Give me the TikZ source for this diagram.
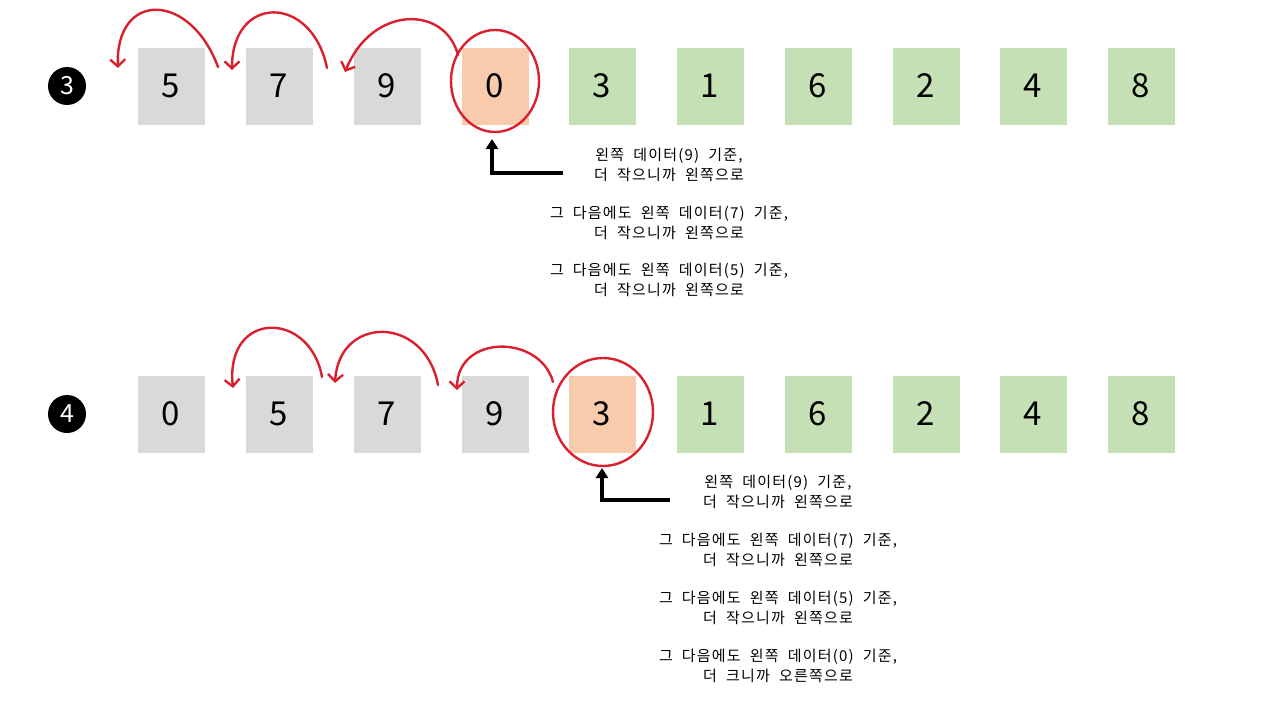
\documentclass[tikz,border=0pt]{standalone}
\usepackage{fontspec}
\setmainfont{Noto Sans CJK KR}
\newfontfamily\notefont[LetterSpace=8,WordSpace=2]{Noto Sans CJK KR}
\usetikzlibrary{arrows.meta}
\definecolor{grayc}{HTML}{D9D9D9}
\definecolor{greenc}{HTML}{C5E0B4}
\definecolor{orangec}{HTML}{F8CBAD}
\definecolor{redc}{HTML}{D9202E}
\tikzset{
  cell/.style={minimum width=67pt,minimum height=77pt,inner sep=0pt,font=\fontsize{33}{33}\selectfont},
  gcell/.style={cell,fill=grayc},
  ncell/.style={cell,fill=greenc},
  ocell/.style={cell,fill=orangec},
  stepnum/.style={circle,fill=black,minimum size=38pt,inner sep=0pt,text=white,font=\fontsize{25}{25}\selectfont},
  redarrow/.style={draw=redc,line width=2.4pt,line cap=round,-{Straight Barb[length=7pt,width=15pt]}},
  redring/.style={draw=redc,line width=2.4pt},
  blackarrow/.style={draw=black,line width=3.5pt,-{Triangle[length=10pt,width=12pt]}},
  note/.style={align=center,font=\notefont\fontsize{15}{20}\selectfont}
}
\begin{document}
\begin{tikzpicture}[x=1pt,y=-1pt]
\useasboundingbox (0,0) rectangle (1280,720);
% Row 1
\node[stepnum] (s3) at (67,86) {3};
\node[gcell] (a1) at (171,86) {5};
\node[gcell] (a2) at (279,86) {7};
\node[gcell] (a3) at (387,86) {9};
\node[ocell] (a4) at (495,86) {0};
\node[ncell] (a5) at (602,86) {3};
\node[ncell] (a6) at (710,86) {1};
\node[ncell] (a7) at (818,86) {6};
\node[ncell] (a8) at (926,86) {2};
\node[ncell] (a9) at (1033,86) {4};
\node[ncell] (a10) at (1141,86) {8};
\draw[redring] (495,81) ellipse [x radius=44,y radius=51];
\coordinate (r1s1) at (218,67); \coordinate (r1e1) at (118,68);
\coordinate (r1s2) at (327,68); \coordinate (r1e2) at (232,70);
\coordinate (r1s3) at (458,55); \coordinate (r1e3) at (345,72);
\draw[redarrow] (r1s1) .. controls (190,-9) and (115,-9) .. (r1e1);
\draw[redarrow] (r1s2) .. controls (312,-6) and (232,-6) .. (r1e2);
\draw[redarrow] (r1s3) .. controls (445,5) and (372,5) .. (r1e3);
\coordinate (b1s) at (563,173);
\coordinate (b1c) at (492,173);
\coordinate (b1e) at (492,139);
\draw[blackarrow] (b1s) -- (b1c) -- (b1e);
\node[note] (t1) at (669,165) {왼쪽 데이터(9) 기준,\\더 작으니까 왼쪽으로};
\node[note] (t2) at (669,223) {그 다음에도 왼쪽 데이터(7) 기준,\\더 작으니까 왼쪽으로};
\node[note] (t3) at (669,280) {그 다음에도 왼쪽 데이터(5) 기준,\\더 작으니까 왼쪽으로};
% Row 2
\node[stepnum] (s4) at (67,414) {4};
\node[gcell] (c1) at (171,414) {0};
\node[gcell] (c2) at (279,414) {5};
\node[gcell] (c3) at (387,414) {7};
\node[gcell] (c4) at (495,414) {9};
\node[ocell] (c5) at (602,414) {3};
\node[ncell] (c6) at (710,414) {1};
\node[ncell] (c7) at (818,414) {6};
\node[ncell] (c8) at (926,414) {2};
\node[ncell] (c9) at (1033,414) {4};
\node[ncell] (c10) at (1141,414) {8};
\draw[redring] (603,412) ellipse [x radius=50,y radius=54];
\coordinate (r2s1) at (322,377); \coordinate (r2e1) at (233,388);
\coordinate (r2s2) at (438,385); \coordinate (r2e2) at (335,383);
\coordinate (r2s3) at (553,382); \coordinate (r2e3) at (457,390);
\draw[redarrow] (r2s1) .. controls (310,310) and (225,310) .. (r2e1);
\draw[redarrow] (r2s2) .. controls (425,315) and (339,315) .. (r2e2);
\draw[redarrow] (r2s3) .. controls (540,334) and (457,334) .. (r2e3);
\coordinate (b2s) at (670,500);
\coordinate (b2c) at (602,500);
\coordinate (b2e) at (602,468);
\draw[blackarrow] (b2s) -- (b2c) -- (b2e);
\node[note] (u1) at (778,492) {왼쪽 데이터(9) 기준,\\더 작으니까 왼쪽으로};
\node[note] (u2) at (778,550) {그 다음에도 왼쪽 데이터(7) 기준,\\더 작으니까 왼쪽으로};
\node[note] (u3) at (778,608) {그 다음에도 왼쪽 데이터(5) 기준,\\더 작으니까 왼쪽으로};
\node[note] (u4) at (778,666) {그 다음에도 왼쪽 데이터(0) 기준,\\더 크니까 오른쪽으로};
\end{tikzpicture}
\end{document}
